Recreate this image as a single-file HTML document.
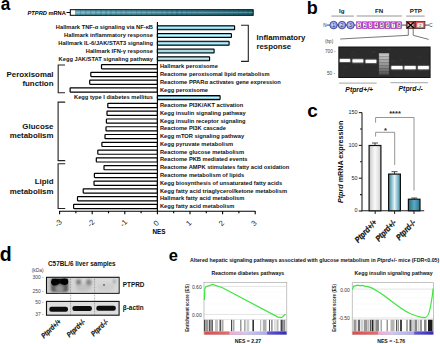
<!DOCTYPE html>
<html><head><meta charset="utf-8"><style>
html,body{margin:0;padding:0;background:#fff;width:440px;height:344px;overflow:hidden}
svg{display:block}
svg text{font-family:"Liberation Sans",sans-serif}
</style></head><body>
<svg width="440" height="344" viewBox="0 0 440 344">
<defs>
<radialGradient id="gcirc" cx="0.45" cy="0.45" r="0.6"><stop offset="0" stop-color="#dfe3ff"/><stop offset="0.55" stop-color="#9aa6f6"/><stop offset="1" stop-color="#7080ea"/></radialGradient>
<linearGradient id="gfn" x1="0" x2="1"><stop offset="0" stop-color="#c040d8"/><stop offset="0.3" stop-color="#f0c8f6"/><stop offset="0.7" stop-color="#f0c8f6"/><stop offset="1" stop-color="#c040d8"/></linearGradient>
<linearGradient id="gptp" x1="0" x2="1"><stop offset="0" stop-color="#e05858"/><stop offset="0.5" stop-color="#fce0e0"/><stop offset="1" stop-color="#e05858"/></linearGradient>
<linearGradient id="gb1" x1="0" x2="1"><stop offset="0" stop-color="#c8c8c8"/><stop offset="0.5" stop-color="#fafafa"/><stop offset="1" stop-color="#cfcfcf"/></linearGradient>
<linearGradient id="gb2" x1="0" x2="1"><stop offset="0" stop-color="#2f86a0"/><stop offset="0.5" stop-color="#e4f2f6"/><stop offset="1" stop-color="#3a8ea8"/></linearGradient>
<linearGradient id="gb3" x1="0" x2="1"><stop offset="0" stop-color="#1f6e88"/><stop offset="0.5" stop-color="#5eaac0"/><stop offset="1" stop-color="#237490"/></linearGradient>
<linearGradient id="gblot1" x1="0" x2="1"><stop offset="0" stop-color="#c4c4c4"/><stop offset="0.08" stop-color="#d2d2d2"/><stop offset="1" stop-color="#dadada"/></linearGradient>
<linearGradient id="gs1" x1="0" x2="1"><stop offset="0" stop-color="#e04a4a"/><stop offset="0.3" stop-color="#e86c6c"/><stop offset="0.31" stop-color="#eca8d8"/><stop offset="0.48" stop-color="#e6bce6"/><stop offset="0.5" stop-color="#ccc8f2"/><stop offset="0.76" stop-color="#aeaaee"/><stop offset="0.77" stop-color="#6058dc"/><stop offset="1" stop-color="#3028c8"/></linearGradient>
<linearGradient id="gs2" x1="0" x2="1"><stop offset="0" stop-color="#e04a4a"/><stop offset="0.31" stop-color="#e86c6c"/><stop offset="0.32" stop-color="#eca8d8"/><stop offset="0.48" stop-color="#e6bce6"/><stop offset="0.49" stop-color="#ccc8f2"/><stop offset="0.76" stop-color="#aeaaee"/><stop offset="0.77" stop-color="#6058dc"/><stop offset="1" stop-color="#3028c8"/></linearGradient>
<filter id="blur1" x="-50%" y="-50%" width="200%" height="200%"><feGaussianBlur stdDeviation="1.2"/></filter>
<filter id="blur05" x="-50%" y="-50%" width="200%" height="200%"><feGaussianBlur stdDeviation="0.6"/></filter>
<filter id="blur03" x="-50%" y="-50%" width="200%" height="200%"><feGaussianBlur stdDeviation="0.35"/></filter>
<linearGradient id="gladder" x1="0" y1="0" x2="0" y2="1"><stop offset="0" stop-color="#8a8a8a"/><stop offset="0.5" stop-color="#6a6a6a"/><stop offset="1" stop-color="#3a3a3a"/></linearGradient>
<linearGradient id="gpos" x1="0" y1="0" x2="0" y2="1"><stop offset="0" stop-color="#2a8aa4"/><stop offset="0.5" stop-color="#dcf2f8"/><stop offset="1" stop-color="#2a8aa4"/></linearGradient>
<filter id="blur045" x="-10%" y="-10%" width="120%" height="120%"><feGaussianBlur stdDeviation="0.45,0.1"/></filter>
</defs>

<text transform="translate(0.8,10.2) scale(0.9,1)" x="0" y="0" font-size="19" font-weight="bold" font-style="normal" text-anchor="start" fill="#000" >a</text>
<text x="306.8" y="13.6" font-size="18" font-weight="bold" font-style="normal" text-anchor="start" fill="#000" >b</text>
<text x="307.3" y="116.6" font-size="19" font-weight="bold" font-style="normal" text-anchor="start" fill="#000" >c</text>
<text x="-0.3" y="260.7" font-size="19.5" font-weight="bold" font-style="normal" text-anchor="start" fill="#000" >d</text>
<text transform="translate(168.8,261.3) scale(0.97,1)" x="0" y="0" font-size="17" font-weight="bold" font-style="normal" text-anchor="start" fill="#000" >e</text>
<text transform="translate(65.8,14.6) scale(0.92,1)" x="0" y="0" font-size="6.2" font-weight="bold" font-style="normal" text-anchor="end" fill="#000" ><tspan font-style="italic">PTPRD</tspan> mRNA</text>
<line x1="66.5" y1="12.5" x2="70" y2="12.5" stroke="#000" stroke-width="1"/>
<rect x="70.50" y="9.8" width="5.12" height="5.4" fill="#ffffff"/>
<rect x="75.57" y="9.8" width="5.12" height="5.4" fill="#62aec0"/>
<rect x="80.64" y="9.8" width="5.12" height="5.4" fill="#5fabbd"/>
<rect x="85.71" y="9.8" width="5.12" height="5.4" fill="#5da9bb"/>
<rect x="90.78" y="9.8" width="5.12" height="5.4" fill="#5ba7b9"/>
<rect x="95.85" y="9.8" width="5.12" height="5.4" fill="#59a5b7"/>
<rect x="100.92" y="9.8" width="5.12" height="5.4" fill="#57a3b5"/>
<rect x="105.99" y="9.8" width="5.12" height="5.4" fill="#55a1b3"/>
<rect x="111.06" y="9.8" width="5.12" height="5.4" fill="#539fb1"/>
<rect x="116.12" y="9.8" width="5.12" height="5.4" fill="#519daf"/>
<rect x="121.19" y="9.8" width="5.12" height="5.4" fill="#4f9aac"/>
<rect x="126.26" y="9.8" width="5.12" height="5.4" fill="#4d98aa"/>
<rect x="131.33" y="9.8" width="5.12" height="5.4" fill="#4b96a8"/>
<rect x="136.40" y="9.8" width="5.12" height="5.4" fill="#4994a6"/>
<rect x="141.47" y="9.8" width="5.12" height="5.4" fill="#4792a4"/>
<rect x="146.54" y="9.8" width="5.12" height="5.4" fill="#4590a2"/>
<rect x="151.61" y="9.8" width="5.12" height="5.4" fill="#438ea0"/>
<rect x="156.68" y="9.8" width="5.12" height="5.4" fill="#418c9e"/>
<rect x="161.75" y="9.8" width="5.12" height="5.4" fill="#3f8a9c"/>
<rect x="166.82" y="9.8" width="5.12" height="5.4" fill="#3c8799"/>
<rect x="171.89" y="9.8" width="5.12" height="5.4" fill="#3a8597"/>
<rect x="176.96" y="9.8" width="5.12" height="5.4" fill="#388395"/>
<rect x="182.03" y="9.8" width="5.12" height="5.4" fill="#368193"/>
<rect x="187.10" y="9.8" width="5.12" height="5.4" fill="#347f91"/>
<rect x="192.17" y="9.8" width="5.12" height="5.4" fill="#327d8f"/>
<rect x="197.24" y="9.8" width="5.12" height="5.4" fill="#307b8d"/>
<rect x="202.31" y="9.8" width="5.12" height="5.4" fill="#2e798b"/>
<rect x="207.38" y="9.8" width="5.12" height="5.4" fill="#2c7688"/>
<rect x="212.44" y="9.8" width="5.12" height="5.4" fill="#2a7486"/>
<rect x="217.51" y="9.8" width="5.12" height="5.4" fill="#287284"/>
<rect x="222.58" y="9.8" width="5.12" height="5.4" fill="#267082"/>
<rect x="227.65" y="9.8" width="5.12" height="5.4" fill="#246e80"/>
<rect x="232.72" y="9.8" width="5.12" height="5.4" fill="#226c7e"/>
<rect x="237.79" y="9.8" width="5.12" height="5.4" fill="#206a7c"/>
<rect x="242.86" y="9.8" width="5.12" height="5.4" fill="#1e687a"/>
<rect x="247.93" y="9.8" width="5.12" height="5.4" fill="#1c6678"/>
<line x1="75.6" y1="12.5" x2="253" y2="12.5" stroke="#a0d4e0" stroke-width="0.6" opacity="0.7"/>
<line x1="75.57" y1="9.8" x2="75.57" y2="15.2" stroke="#123f4a" stroke-width="0.6" opacity="0.6"/>
<line x1="80.64" y1="9.8" x2="80.64" y2="15.2" stroke="#123f4a" stroke-width="0.6" opacity="0.6"/>
<line x1="85.71" y1="9.8" x2="85.71" y2="15.2" stroke="#123f4a" stroke-width="0.6" opacity="0.6"/>
<line x1="90.78" y1="9.8" x2="90.78" y2="15.2" stroke="#123f4a" stroke-width="0.6" opacity="0.6"/>
<line x1="95.85" y1="9.8" x2="95.85" y2="15.2" stroke="#123f4a" stroke-width="0.6" opacity="0.6"/>
<line x1="100.92" y1="9.8" x2="100.92" y2="15.2" stroke="#123f4a" stroke-width="0.6" opacity="0.6"/>
<line x1="105.99" y1="9.8" x2="105.99" y2="15.2" stroke="#123f4a" stroke-width="0.6" opacity="0.6"/>
<line x1="111.06" y1="9.8" x2="111.06" y2="15.2" stroke="#123f4a" stroke-width="0.6" opacity="0.6"/>
<line x1="116.12" y1="9.8" x2="116.12" y2="15.2" stroke="#123f4a" stroke-width="0.6" opacity="0.6"/>
<line x1="121.19" y1="9.8" x2="121.19" y2="15.2" stroke="#123f4a" stroke-width="0.6" opacity="0.6"/>
<line x1="126.26" y1="9.8" x2="126.26" y2="15.2" stroke="#123f4a" stroke-width="0.6" opacity="0.6"/>
<line x1="131.33" y1="9.8" x2="131.33" y2="15.2" stroke="#123f4a" stroke-width="0.6" opacity="0.6"/>
<line x1="136.40" y1="9.8" x2="136.40" y2="15.2" stroke="#123f4a" stroke-width="0.6" opacity="0.6"/>
<line x1="141.47" y1="9.8" x2="141.47" y2="15.2" stroke="#123f4a" stroke-width="0.6" opacity="0.6"/>
<line x1="146.54" y1="9.8" x2="146.54" y2="15.2" stroke="#123f4a" stroke-width="0.6" opacity="0.6"/>
<line x1="151.61" y1="9.8" x2="151.61" y2="15.2" stroke="#123f4a" stroke-width="0.6" opacity="0.6"/>
<line x1="156.68" y1="9.8" x2="156.68" y2="15.2" stroke="#123f4a" stroke-width="0.6" opacity="0.6"/>
<line x1="161.75" y1="9.8" x2="161.75" y2="15.2" stroke="#123f4a" stroke-width="0.6" opacity="0.6"/>
<line x1="166.82" y1="9.8" x2="166.82" y2="15.2" stroke="#123f4a" stroke-width="0.6" opacity="0.6"/>
<line x1="171.89" y1="9.8" x2="171.89" y2="15.2" stroke="#123f4a" stroke-width="0.6" opacity="0.6"/>
<line x1="176.96" y1="9.8" x2="176.96" y2="15.2" stroke="#123f4a" stroke-width="0.6" opacity="0.6"/>
<line x1="182.03" y1="9.8" x2="182.03" y2="15.2" stroke="#123f4a" stroke-width="0.6" opacity="0.6"/>
<line x1="187.10" y1="9.8" x2="187.10" y2="15.2" stroke="#123f4a" stroke-width="0.6" opacity="0.6"/>
<line x1="192.17" y1="9.8" x2="192.17" y2="15.2" stroke="#123f4a" stroke-width="0.6" opacity="0.6"/>
<line x1="197.24" y1="9.8" x2="197.24" y2="15.2" stroke="#123f4a" stroke-width="0.6" opacity="0.6"/>
<line x1="202.31" y1="9.8" x2="202.31" y2="15.2" stroke="#123f4a" stroke-width="0.6" opacity="0.6"/>
<line x1="207.38" y1="9.8" x2="207.38" y2="15.2" stroke="#123f4a" stroke-width="0.6" opacity="0.6"/>
<line x1="212.44" y1="9.8" x2="212.44" y2="15.2" stroke="#123f4a" stroke-width="0.6" opacity="0.6"/>
<line x1="217.51" y1="9.8" x2="217.51" y2="15.2" stroke="#123f4a" stroke-width="0.6" opacity="0.6"/>
<line x1="222.58" y1="9.8" x2="222.58" y2="15.2" stroke="#123f4a" stroke-width="0.6" opacity="0.6"/>
<line x1="227.65" y1="9.8" x2="227.65" y2="15.2" stroke="#123f4a" stroke-width="0.6" opacity="0.6"/>
<line x1="232.72" y1="9.8" x2="232.72" y2="15.2" stroke="#123f4a" stroke-width="0.6" opacity="0.6"/>
<line x1="237.79" y1="9.8" x2="237.79" y2="15.2" stroke="#123f4a" stroke-width="0.6" opacity="0.6"/>
<line x1="242.86" y1="9.8" x2="242.86" y2="15.2" stroke="#123f4a" stroke-width="0.6" opacity="0.6"/>
<line x1="247.93" y1="9.8" x2="247.93" y2="15.2" stroke="#123f4a" stroke-width="0.6" opacity="0.6"/>
<rect x="70.3" y="9.7" width="182.9" height="5.6" fill="none" stroke="#000" stroke-width="1"/>
<rect x="157.4" y="25.70" width="77.20" height="4.0" rx="0.5" fill="url(#gpos)" stroke="#000" stroke-width="1.15"/>
<text transform="translate(153.0,29.45) scale(0.925,1)" x="0" y="0" font-size="6.2" font-weight="bold" font-style="normal" text-anchor="end" fill="#111" >Hallmark TNF-α signaling via NF-κB</text>
<rect x="157.4" y="33.46" width="74.00" height="4.0" rx="0.5" fill="url(#gpos)" stroke="#000" stroke-width="1.15"/>
<text transform="translate(153.0,37.21) scale(0.925,1)" x="0" y="0" font-size="6.2" font-weight="bold" font-style="normal" text-anchor="end" fill="#111" >Hallmark inflammatory response</text>
<rect x="157.4" y="41.23" width="71.70" height="4.0" rx="0.5" fill="url(#gpos)" stroke="#000" stroke-width="1.15"/>
<text transform="translate(153.0,44.98) scale(0.925,1)" x="0" y="0" font-size="6.2" font-weight="bold" font-style="normal" text-anchor="end" fill="#111" >Hallmark IL-6/JAK/STAT3 signaling</text>
<rect x="157.4" y="48.99" width="56.70" height="4.0" rx="0.5" fill="url(#gpos)" stroke="#000" stroke-width="1.15"/>
<text transform="translate(153.0,52.74) scale(0.925,1)" x="0" y="0" font-size="6.2" font-weight="bold" font-style="normal" text-anchor="end" fill="#111" >Hallmark IFN-γ response</text>
<rect x="157.4" y="56.76" width="52.20" height="4.0" rx="0.5" fill="url(#gpos)" stroke="#000" stroke-width="1.15"/>
<text transform="translate(153.0,60.51) scale(0.925,1)" x="0" y="0" font-size="6.2" font-weight="bold" font-style="normal" text-anchor="end" fill="#111" >Kegg JAK/STAT signaling pathway</text>
<rect x="101.50" y="64.62" width="55.90" height="4.2" rx="0.5" fill="#fff" stroke="#000" stroke-width="1.2"/>
<text transform="translate(159.9,68.27) scale(0.925,1)" x="0" y="0" font-size="6.2" font-weight="bold" font-style="normal" text-anchor="start" fill="#111" >Hallmark peroxisome</text>
<rect x="90.80" y="72.39" width="66.60" height="4.2" rx="0.5" fill="#fff" stroke="#000" stroke-width="1.2"/>
<text transform="translate(159.9,76.04) scale(0.925,1)" x="0" y="0" font-size="6.2" font-weight="bold" font-style="normal" text-anchor="start" fill="#111" >Reactome peroxisomal lipid metabolism</text>
<rect x="89.70" y="80.16" width="67.70" height="4.2" rx="0.5" fill="#fff" stroke="#000" stroke-width="1.2"/>
<text transform="translate(159.9,83.80) scale(0.925,1)" x="0" y="0" font-size="6.2" font-weight="bold" font-style="normal" text-anchor="start" fill="#111" >Reactome PPARα activates gene expression</text>
<rect x="70.10" y="87.92" width="87.30" height="4.2" rx="0.5" fill="#fff" stroke="#000" stroke-width="1.2"/>
<text transform="translate(159.9,91.57) scale(0.925,1)" x="0" y="0" font-size="6.2" font-weight="bold" font-style="normal" text-anchor="start" fill="#111" >Kegg peroxisome</text>
<rect x="157.4" y="95.58" width="62.70" height="4.0" rx="0.5" fill="url(#gpos)" stroke="#000" stroke-width="1.15"/>
<text transform="translate(153.0,99.33) scale(0.925,1)" x="0" y="0" font-size="6.2" font-weight="bold" font-style="normal" text-anchor="end" fill="#111" >Kegg type I diabetes mellitus</text>
<rect x="107.80" y="103.45" width="49.60" height="4.2" rx="0.5" fill="#fff" stroke="#000" stroke-width="1.2"/>
<text transform="translate(159.9,107.10) scale(0.925,1)" x="0" y="0" font-size="6.2" font-weight="bold" font-style="normal" text-anchor="start" fill="#111" >Reactome PI3K/AKT activation</text>
<rect x="107.00" y="111.22" width="50.40" height="4.2" rx="0.5" fill="#fff" stroke="#000" stroke-width="1.2"/>
<text transform="translate(159.9,114.86) scale(0.925,1)" x="0" y="0" font-size="6.2" font-weight="bold" font-style="normal" text-anchor="start" fill="#111" >Kegg insulin signaling pathway</text>
<rect x="106.40" y="118.98" width="51.00" height="4.2" rx="0.5" fill="#fff" stroke="#000" stroke-width="1.2"/>
<text transform="translate(159.9,122.63) scale(0.925,1)" x="0" y="0" font-size="6.2" font-weight="bold" font-style="normal" text-anchor="start" fill="#111" >Kegg insulin receptor signaling</text>
<rect x="106.00" y="126.75" width="51.40" height="4.2" rx="0.5" fill="#fff" stroke="#000" stroke-width="1.2"/>
<text transform="translate(159.9,130.40) scale(0.925,1)" x="0" y="0" font-size="6.2" font-weight="bold" font-style="normal" text-anchor="start" fill="#111" >Reactome PI3K cascade</text>
<rect x="105.00" y="134.51" width="52.40" height="4.2" rx="0.5" fill="#fff" stroke="#000" stroke-width="1.2"/>
<text transform="translate(159.9,138.16) scale(0.925,1)" x="0" y="0" font-size="6.2" font-weight="bold" font-style="normal" text-anchor="start" fill="#111" >Kegg mTOR signaling pathway</text>
<rect x="101.90" y="142.28" width="55.50" height="4.2" rx="0.5" fill="#fff" stroke="#000" stroke-width="1.2"/>
<text transform="translate(159.9,145.93) scale(0.925,1)" x="0" y="0" font-size="6.2" font-weight="bold" font-style="normal" text-anchor="start" fill="#111" >Kegg pyruvate metabolism</text>
<rect x="97.80" y="150.04" width="59.60" height="4.2" rx="0.5" fill="#fff" stroke="#000" stroke-width="1.2"/>
<text transform="translate(159.9,153.69) scale(0.925,1)" x="0" y="0" font-size="6.2" font-weight="bold" font-style="normal" text-anchor="start" fill="#111" >Reactome glucose metabolism</text>
<rect x="96.30" y="157.81" width="61.10" height="4.2" rx="0.5" fill="#fff" stroke="#000" stroke-width="1.2"/>
<text transform="translate(159.9,161.46) scale(0.925,1)" x="0" y="0" font-size="6.2" font-weight="bold" font-style="normal" text-anchor="start" fill="#111" >Reactome PKB mediated events</text>
<rect x="104.00" y="165.57" width="53.40" height="4.2" rx="0.5" fill="#fff" stroke="#000" stroke-width="1.2"/>
<text transform="translate(159.9,169.22) scale(0.925,1)" x="0" y="0" font-size="6.2" font-weight="bold" font-style="normal" text-anchor="start" fill="#111" >Reactome AMPK stimulates fatty acid oxidation</text>
<rect x="94.40" y="173.34" width="63.00" height="4.2" rx="0.5" fill="#fff" stroke="#000" stroke-width="1.2"/>
<text transform="translate(159.9,176.99) scale(0.925,1)" x="0" y="0" font-size="6.2" font-weight="bold" font-style="normal" text-anchor="start" fill="#111" >Reactome metabolism of lipids</text>
<rect x="94.00" y="181.10" width="63.40" height="4.2" rx="0.5" fill="#fff" stroke="#000" stroke-width="1.2"/>
<text transform="translate(159.9,184.75) scale(0.925,1)" x="0" y="0" font-size="6.2" font-weight="bold" font-style="normal" text-anchor="start" fill="#111" >Kegg biosynthesis of unsaturated fatty acids</text>
<rect x="83.20" y="188.87" width="74.20" height="4.2" rx="0.5" fill="#fff" stroke="#000" stroke-width="1.2"/>
<text transform="translate(159.9,192.52) scale(0.925,1)" x="0" y="0" font-size="6.2" font-weight="bold" font-style="normal" text-anchor="start" fill="#111" >Kegg fatty acid triaglycerol/ketone metabolism</text>
<rect x="77.50" y="196.63" width="79.90" height="4.2" rx="0.5" fill="#fff" stroke="#000" stroke-width="1.2"/>
<text transform="translate(159.9,200.28) scale(0.925,1)" x="0" y="0" font-size="6.2" font-weight="bold" font-style="normal" text-anchor="start" fill="#111" >Hallmark fatty acid metabolism</text>
<rect x="73.60" y="204.40" width="83.80" height="4.2" rx="0.5" fill="#fff" stroke="#000" stroke-width="1.2"/>
<text transform="translate(159.9,208.05) scale(0.925,1)" x="0" y="0" font-size="6.2" font-weight="bold" font-style="normal" text-anchor="start" fill="#111" >Kegg fatty acid metabolism</text>
<line x1="157.4" y1="22" x2="157.4" y2="211.5" stroke="#000" stroke-width="1.1"/>
<line x1="59.3" y1="211.2" x2="255.2" y2="211.2" stroke="#000" stroke-width="1.1"/>
<line x1="59.60" y1="211" x2="59.60" y2="214.3" stroke="#000" stroke-width="1.1"/>
<text transform="translate(60.20,225.0) rotate(-45) scale(1.0,1)" font-size="7.6" font-weight="normal" font-style="normal" text-anchor="middle" fill="#222" >-3</text>
<line x1="92.20" y1="211" x2="92.20" y2="214.3" stroke="#000" stroke-width="1.1"/>
<text transform="translate(92.80,225.0) rotate(-45) scale(1.0,1)" font-size="7.6" font-weight="normal" font-style="normal" text-anchor="middle" fill="#222" >-2</text>
<line x1="124.80" y1="211" x2="124.80" y2="214.3" stroke="#000" stroke-width="1.1"/>
<text transform="translate(125.40,225.0) rotate(-45) scale(1.0,1)" font-size="7.6" font-weight="normal" font-style="normal" text-anchor="middle" fill="#222" >-1</text>
<line x1="157.40" y1="211" x2="157.40" y2="214.3" stroke="#000" stroke-width="1.1"/>
<text transform="translate(158.00,225.0) rotate(-45) scale(1.0,1)" font-size="7.6" font-weight="normal" font-style="normal" text-anchor="middle" fill="#222" >0</text>
<line x1="190.00" y1="211" x2="190.00" y2="214.3" stroke="#000" stroke-width="1.1"/>
<text transform="translate(190.60,225.0) rotate(-45) scale(1.0,1)" font-size="7.6" font-weight="normal" font-style="normal" text-anchor="middle" fill="#222" >1</text>
<line x1="222.60" y1="211" x2="222.60" y2="214.3" stroke="#000" stroke-width="1.1"/>
<text transform="translate(223.20,225.0) rotate(-45) scale(1.0,1)" font-size="7.6" font-weight="normal" font-style="normal" text-anchor="middle" fill="#222" >2</text>
<line x1="255.20" y1="211" x2="255.20" y2="214.3" stroke="#000" stroke-width="1.1"/>
<text transform="translate(255.80,225.0) rotate(-45) scale(1.0,1)" font-size="7.6" font-weight="normal" font-style="normal" text-anchor="middle" fill="#222" >3</text>
<line x1="75.90" y1="211" x2="75.90" y2="213.3" stroke="#000" stroke-width="1.1"/>
<line x1="108.50" y1="211" x2="108.50" y2="213.3" stroke="#000" stroke-width="1.1"/>
<line x1="141.10" y1="211" x2="141.10" y2="213.3" stroke="#000" stroke-width="1.1"/>
<line x1="173.70" y1="211" x2="173.70" y2="213.3" stroke="#000" stroke-width="1.1"/>
<line x1="206.30" y1="211" x2="206.30" y2="213.3" stroke="#000" stroke-width="1.1"/>
<line x1="238.90" y1="211" x2="238.90" y2="213.3" stroke="#000" stroke-width="1.1"/>
<text x="159" y="234.2" font-size="6.3" font-weight="bold" font-style="normal" text-anchor="middle" fill="#000" >NES</text>
<polyline points="241,25.2 248.3,25.2 248.3,61.4 241,61.4" fill="none" stroke="#222" stroke-width="1.1"/>
<polyline points="65,65 58.2,65 58.2,92.8 65,92.8" fill="none" stroke="#222" stroke-width="1.1"/>
<polyline points="65.2,102.1 58.1,102.1 58.1,160.6 65.2,160.6" fill="none" stroke="#222" stroke-width="1.1"/>
<polyline points="65.2,163.7 58.1,163.7 58.1,208.5 65.2,208.5" fill="none" stroke="#222" stroke-width="1.1"/>
<text x="256.5" y="39.8" font-size="7.8" font-weight="bold" font-style="normal" text-anchor="start" fill="#111" >Inflammatory</text>
<text x="256.5" y="49.0" font-size="7.8" font-weight="bold" font-style="normal" text-anchor="start" fill="#111" >response</text>
<text x="53.5" y="76.5" font-size="7.9" font-weight="bold" font-style="normal" text-anchor="end" fill="#111" >Peroxisomal</text>
<text x="53.5" y="85.6" font-size="7.9" font-weight="bold" font-style="normal" text-anchor="end" fill="#111" >function</text>
<text x="53.5" y="128.9" font-size="7.9" font-weight="bold" font-style="normal" text-anchor="end" fill="#111" >Glucose</text>
<text x="53.5" y="137.7" font-size="7.9" font-weight="bold" font-style="normal" text-anchor="end" fill="#111" >metabolism</text>
<text x="53.5" y="184.3" font-size="7.9" font-weight="bold" font-style="normal" text-anchor="end" fill="#111" >Lipid</text>
<text x="53.5" y="193.5" font-size="7.9" font-weight="bold" font-style="normal" text-anchor="end" fill="#111" >metabolism</text>
<text x="341.7" y="12.9" font-size="6.2" font-weight="bold" font-style="normal" text-anchor="middle" fill="#1a1a1a" >Ig</text>
<line x1="331.4" y1="16.1" x2="353.9" y2="16.1" stroke="#b8b8b8" stroke-width="1.5"/>
<text x="379.2" y="12.9" font-size="6.2" font-weight="bold" font-style="normal" text-anchor="middle" fill="#1a1a1a" >FN</text>
<line x1="356.6" y1="16.1" x2="401.8" y2="16.1" stroke="#b8b8b8" stroke-width="1.5"/>
<text x="415.8" y="12.9" font-size="6.2" font-weight="bold" font-style="normal" text-anchor="middle" fill="#1a1a1a" >PTP</text>
<line x1="406.2" y1="16.1" x2="424.7" y2="16.1" stroke="#b8b8b8" stroke-width="1.5"/>
<text x="323.2" y="26.8" font-size="4.6" font-weight="normal" font-style="normal" text-anchor="start" fill="#333" >N</text>
<line x1="326.6" y1="25.1" x2="356" y2="25.1" stroke="#333" stroke-width="0.9"/>
<line x1="402" y1="25.1" x2="406.2" y2="25.1" stroke="#333" stroke-width="0.9"/>
<line x1="425" y1="25.1" x2="429.3" y2="25.1" stroke="#333" stroke-width="0.9"/>
<text x="429.2" y="26.8" font-size="4.6" font-weight="normal" font-style="normal" text-anchor="start" fill="#333" >C</text>
<circle cx="333.6" cy="25.1" r="3.8" fill="url(#gcirc)" stroke="#1a2266" stroke-width="0.65"/>
<text x="333.6" y="26.9" font-size="5" font-weight="normal" text-anchor="middle" fill="#2a2a3a">1</text>
<circle cx="342.0" cy="25.1" r="3.8" fill="url(#gcirc)" stroke="#1a2266" stroke-width="0.65"/>
<text x="342.0" y="26.9" font-size="5" font-weight="normal" text-anchor="middle" fill="#2a2a3a">2</text>
<circle cx="350.5" cy="25.1" r="3.8" fill="url(#gcirc)" stroke="#1a2266" stroke-width="0.65"/>
<text x="350.5" y="26.9" font-size="5" font-weight="normal" text-anchor="middle" fill="#2a2a3a">3</text>
<rect x="356.50" y="21.8" width="5.11" height="6.8" fill="#d23ce2" stroke="#8a2a9a" stroke-width="0.5"/>
<rect x="357.40" y="22.6" width="3.31" height="5.2" rx="0.7" fill="#ffffff"/>
<text x="359.06" y="26.9" font-size="5.0" font-weight="normal" font-style="normal" text-anchor="middle" fill="#111" >1</text>
<rect x="362.21" y="21.8" width="5.11" height="6.8" fill="#d23ce2" stroke="#8a2a9a" stroke-width="0.5"/>
<rect x="363.11" y="22.6" width="3.31" height="5.2" rx="0.7" fill="#ffffff"/>
<text x="364.77" y="26.9" font-size="5.0" font-weight="normal" font-style="normal" text-anchor="middle" fill="#111" >2</text>
<rect x="367.93" y="21.8" width="5.11" height="6.8" fill="#d23ce2" stroke="#8a2a9a" stroke-width="0.5"/>
<rect x="368.82" y="22.6" width="3.31" height="5.2" rx="0.7" fill="#ffffff"/>
<text x="370.48" y="26.9" font-size="5.0" font-weight="normal" font-style="normal" text-anchor="middle" fill="#111" >3</text>
<rect x="373.64" y="21.8" width="5.11" height="6.8" fill="#d23ce2" stroke="#8a2a9a" stroke-width="0.5"/>
<rect x="374.54" y="22.6" width="3.31" height="5.2" rx="0.7" fill="#ffffff"/>
<text x="376.19" y="26.9" font-size="5.0" font-weight="normal" font-style="normal" text-anchor="middle" fill="#111" >4</text>
<rect x="379.35" y="21.8" width="5.11" height="6.8" fill="#d23ce2" stroke="#8a2a9a" stroke-width="0.5"/>
<rect x="380.25" y="22.6" width="3.31" height="5.2" rx="0.7" fill="#ffffff"/>
<text x="381.91" y="26.9" font-size="5.0" font-weight="normal" font-style="normal" text-anchor="middle" fill="#111" >5</text>
<rect x="385.06" y="21.8" width="5.11" height="6.8" fill="#d23ce2" stroke="#8a2a9a" stroke-width="0.5"/>
<rect x="385.96" y="22.6" width="3.31" height="5.2" rx="0.7" fill="#ffffff"/>
<text x="387.62" y="26.9" font-size="5.0" font-weight="normal" font-style="normal" text-anchor="middle" fill="#111" >6</text>
<rect x="390.78" y="21.8" width="5.11" height="6.8" fill="#d23ce2" stroke="#8a2a9a" stroke-width="0.5"/>
<rect x="391.68" y="22.6" width="3.31" height="5.2" rx="0.7" fill="#ffffff"/>
<text x="393.33" y="26.9" font-size="5.0" font-weight="normal" font-style="normal" text-anchor="middle" fill="#111" >7</text>
<rect x="396.49" y="21.8" width="5.11" height="6.8" fill="#d23ce2" stroke="#8a2a9a" stroke-width="0.5"/>
<rect x="397.39" y="22.6" width="3.31" height="5.2" rx="0.7" fill="#ffffff"/>
<text x="399.04" y="26.9" font-size="5.0" font-weight="normal" font-style="normal" text-anchor="middle" fill="#111" >8</text>
<rect x="406.3" y="21.6" width="8.6" height="7" fill="#e25050" stroke="#222" stroke-width="0.7"/>
<rect x="408.0" y="23.0" width="5.2" height="4.2" rx="0.6" fill="#f8d0d0"/>
<path d="M407.3,22.2 L413.9,28 M413.9,22.2 L407.3,28" stroke="#000" stroke-width="1.4"/>
<rect x="415.5" y="21.6" width="9.4" height="7" fill="#e05a5a" stroke="#222" stroke-width="0.7"/>
<rect x="417.2" y="22.9" width="6" height="4.4" rx="0.8" fill="#fbe6e6"/>
<text x="420.2" y="26.7" font-size="4.2" font-weight="normal" font-style="normal" text-anchor="middle" fill="#444" >2</text>
<polyline points="408.3,28.6 408.3,35.3 340.2,39" fill="none" stroke="#555" stroke-width="0.8"/>
<polyline points="413.2,28.6 413.2,35.3 428.7,39.4" fill="none" stroke="#555" stroke-width="0.8"/>
<text x="325" y="43.3" font-size="4.6" font-weight="normal" font-style="normal" text-anchor="start" fill="#444" >(bp)</text>
<text x="325" y="53.1" font-size="4.7" font-weight="normal" font-style="normal" text-anchor="start" fill="#444" >700 -</text>
<text x="327" y="75.4" font-size="4.7" font-weight="normal" font-style="normal" text-anchor="start" fill="#444" >50 -</text>
<rect x="338.3" y="46.5" width="92.3" height="31.5" fill="#151515"/>
<rect x="339.3" y="47.5" width="90.3" height="29.5" fill="#2b2b2b"/>
<rect x="368.3" y="51.7" width="3.0" height="0.7" fill="#3a3a3a" opacity="0.5"/>
<rect x="387.2" y="57.7" width="1.2" height="1.4" fill="#3a3a3a" opacity="0.5"/>
<rect x="342.8" y="59.6" width="1.2" height="0.7" fill="#3a3a3a" opacity="0.5"/>
<rect x="377.3" y="70.7" width="1.4" height="0.9" fill="#3a3a3a" opacity="0.5"/>
<rect x="395.3" y="74.0" width="2.7" height="1.2" fill="#3a3a3a" opacity="0.5"/>
<rect x="426.4" y="48.8" width="3.6" height="1.0" fill="#3a3a3a" opacity="0.5"/>
<rect x="352.3" y="50.8" width="1.9" height="1.8" fill="#3a3a3a" opacity="0.5"/>
<rect x="355.6" y="63.8" width="2.9" height="1.2" fill="#3a3a3a" opacity="0.5"/>
<rect x="388.2" y="49.3" width="1.2" height="0.9" fill="#3a3a3a" opacity="0.5"/>
<rect x="400.1" y="59.5" width="1.9" height="1.5" fill="#3a3a3a" opacity="0.5"/>
<rect x="379.8" y="55.9" width="3.4" height="1.6" fill="#3a3a3a" opacity="0.5"/>
<rect x="361.2" y="63.6" width="2.6" height="1.9" fill="#3a3a3a" opacity="0.5"/>
<rect x="404.4" y="55.6" width="3.9" height="0.8" fill="#3a3a3a" opacity="0.5"/>
<rect x="376.7" y="68.7" width="1.5" height="1.3" fill="#3a3a3a" opacity="0.5"/>
<rect x="343.0" y="66.2" width="3.3" height="1.5" fill="#3a3a3a" opacity="0.5"/>
<rect x="417.4" y="56.3" width="3.1" height="1.5" fill="#3a3a3a" opacity="0.5"/>
<rect x="391.1" y="60.3" width="3.5" height="2.0" fill="#3a3a3a" opacity="0.5"/>
<rect x="381.7" y="66.1" width="1.2" height="1.7" fill="#3a3a3a" opacity="0.5"/>
<rect x="397.1" y="75.3" width="3.5" height="1.0" fill="#3a3a3a" opacity="0.5"/>
<rect x="373.8" y="66.2" width="1.1" height="1.3" fill="#3a3a3a" opacity="0.5"/>
<rect x="354.5" y="50.8" width="1.2" height="1.8" fill="#3a3a3a" opacity="0.5"/>
<rect x="351.0" y="54.4" width="2.2" height="1.9" fill="#3a3a3a" opacity="0.5"/>
<rect x="346.7" y="60.1" width="2.6" height="1.9" fill="#3a3a3a" opacity="0.5"/>
<rect x="412.4" y="71.7" width="1.8" height="1.2" fill="#3a3a3a" opacity="0.5"/>
<rect x="371.4" y="72.3" width="3.9" height="0.8" fill="#3a3a3a" opacity="0.5"/>
<rect x="355.2" y="54.0" width="1.7" height="1.3" fill="#3a3a3a" opacity="0.5"/>
<rect x="391.9" y="54.9" width="1.0" height="1.2" fill="#3a3a3a" opacity="0.5"/>
<rect x="372.4" y="63.4" width="3.9" height="1.6" fill="#3a3a3a" opacity="0.5"/>
<rect x="385.4" y="64.8" width="3.0" height="0.7" fill="#3a3a3a" opacity="0.5"/>
<rect x="419.6" y="69.3" width="3.6" height="1.8" fill="#3a3a3a" opacity="0.5"/>
<rect x="374.4" y="58.7" width="1.3" height="1.6" fill="#3a3a3a" opacity="0.5"/>
<rect x="345.0" y="49.4" width="1.6" height="0.8" fill="#3a3a3a" opacity="0.5"/>
<rect x="369.8" y="49.0" width="1.0" height="0.8" fill="#3a3a3a" opacity="0.5"/>
<rect x="348.5" y="57.7" width="1.1" height="1.9" fill="#3a3a3a" opacity="0.5"/>
<rect x="394.2" y="51.7" width="1.8" height="1.1" fill="#3a3a3a" opacity="0.5"/>
<rect x="371.9" y="50.9" width="3.5" height="2.1" fill="#3a3a3a" opacity="0.5"/>
<rect x="381.0" y="61.0" width="1.3" height="0.8" fill="#3a3a3a" opacity="0.5"/>
<rect x="370.0" y="54.9" width="3.5" height="0.8" fill="#3a3a3a" opacity="0.5"/>
<rect x="341.6" y="74.1" width="2.6" height="0.8" fill="#3a3a3a" opacity="0.5"/>
<rect x="387.8" y="48.3" width="2.6" height="2.1" fill="#3a3a3a" opacity="0.5"/>
<rect x="339.0" y="57.9" width="12.00" height="5.2" rx="1.5" fill="#8a8a8a" opacity="0.5" filter="url(#blur05)"/>
<rect x="339.8" y="58.9" width="10.40" height="3.2" rx="0.8" fill="#fcfcfc"/>
<rect x="351.59999999999997" y="58.3" width="12.50" height="5.2" rx="1.5" fill="#8a8a8a" opacity="0.5" filter="url(#blur05)"/>
<rect x="352.4" y="59.3" width="10.90" height="3.2" rx="0.8" fill="#fcfcfc"/>
<rect x="364.7" y="58.8" width="12.50" height="5.2" rx="1.5" fill="#8a8a8a" opacity="0.5" filter="url(#blur05)"/>
<rect x="365.5" y="59.8" width="10.90" height="3.2" rx="0.8" fill="#fcfcfc"/>
<rect x="390.5" y="65.0" width="13.00" height="5.2" rx="1.5" fill="#8a8a8a" opacity="0.5" filter="url(#blur05)"/>
<rect x="391.3" y="66.0" width="11.40" height="3.2" rx="0.8" fill="#fcfcfc"/>
<rect x="403.59999999999997" y="65.0" width="13.00" height="5.2" rx="1.5" fill="#8a8a8a" opacity="0.5" filter="url(#blur05)"/>
<rect x="404.4" y="66.0" width="11.40" height="3.2" rx="0.8" fill="#fcfcfc"/>
<rect x="417.09999999999997" y="65.0" width="12.60" height="5.2" rx="1.5" fill="#8a8a8a" opacity="0.5" filter="url(#blur05)"/>
<rect x="417.9" y="66.0" width="11.00" height="3.2" rx="0.8" fill="#fcfcfc"/>
<rect x="378.8" y="53" width="10.4" height="22.5" fill="url(#gladder)" filter="url(#blur03)"/>
<g filter="url(#blur03)">
<rect x="379.2" y="53.80" width="9.6" height="0.8" fill="#eeeeee" opacity="0.90"/>
<rect x="379.2" y="55.30" width="9.6" height="0.8" fill="#eeeeee" opacity="0.84"/>
<rect x="379.2" y="56.80" width="9.6" height="0.8" fill="#eeeeee" opacity="0.79"/>
<rect x="379.2" y="58.30" width="9.6" height="0.8" fill="#eeeeee" opacity="0.73"/>
<rect x="379.2" y="59.80" width="9.6" height="0.8" fill="#eeeeee" opacity="0.68"/>
<rect x="379.2" y="61.30" width="9.6" height="0.8" fill="#eeeeee" opacity="0.62"/>
<rect x="379.2" y="62.80" width="9.6" height="0.8" fill="#eeeeee" opacity="0.57"/>
<rect x="379.2" y="64.30" width="9.6" height="0.8" fill="#eeeeee" opacity="0.52"/>
<rect x="379.2" y="65.80" width="9.6" height="0.8" fill="#eeeeee" opacity="0.46"/>
<rect x="379.2" y="67.30" width="9.6" height="0.8" fill="#eeeeee" opacity="0.41"/>
<rect x="379.2" y="68.80" width="9.6" height="0.8" fill="#eeeeee" opacity="0.35"/>
<rect x="379.2" y="70.30" width="9.6" height="0.8" fill="#eeeeee" opacity="0.30"/>
<rect x="379.2" y="71.80" width="9.6" height="0.8" fill="#eeeeee" opacity="0.24"/>
<rect x="379.2" y="73.30" width="9.6" height="0.8" fill="#eeeeee" opacity="0.19"/>
</g>
<line x1="339" y1="83.1" x2="376.7" y2="83.1" stroke="#b8b8b8" stroke-width="1.4"/>
<line x1="390.5" y1="82.6" x2="428" y2="82.6" stroke="#b8b8b8" stroke-width="1.4"/>
<text transform="translate(359.2,91.6) scale(0.9,1)" x="0" y="0" font-size="7.6" font-weight="bold" font-style="italic" text-anchor="middle" fill="#111" >Ptprd+/+</text>
<text transform="translate(410.7,91.4) scale(0.9,1)" x="0" y="0" font-size="7.6" font-weight="bold" font-style="italic" text-anchor="middle" fill="#111" >Ptprd-/-</text>
<line x1="362" y1="112.4" x2="362" y2="211.3" stroke="#222" stroke-width="1.1"/>
<line x1="361.5" y1="210.8" x2="424.2" y2="210.8" stroke="#222" stroke-width="1.1"/>
<line x1="358.8" y1="211.00" x2="362" y2="211.00" stroke="#222" stroke-width="1.1"/>
<text x="357.6" y="212.40" font-size="5.4" font-weight="normal" font-style="normal" text-anchor="end" fill="#1a1a1a" >0</text>
<line x1="358.8" y1="178.20" x2="362" y2="178.20" stroke="#222" stroke-width="1.1"/>
<text x="357.6" y="179.60" font-size="5.4" font-weight="normal" font-style="normal" text-anchor="end" fill="#1a1a1a" >50</text>
<line x1="358.8" y1="145.40" x2="362" y2="145.40" stroke="#222" stroke-width="1.1"/>
<text x="357.6" y="146.80" font-size="5.4" font-weight="normal" font-style="normal" text-anchor="end" fill="#1a1a1a" >100</text>
<line x1="358.8" y1="112.60" x2="362" y2="112.60" stroke="#222" stroke-width="1.1"/>
<text x="357.6" y="114.00" font-size="5.4" font-weight="normal" font-style="normal" text-anchor="end" fill="#1a1a1a" >150</text>
<line x1="360" y1="194.60" x2="362" y2="194.60" stroke="#222" stroke-width="1.1"/>
<line x1="360" y1="161.80" x2="362" y2="161.80" stroke="#222" stroke-width="1.1"/>
<line x1="360" y1="129.00" x2="362" y2="129.00" stroke="#222" stroke-width="1.1"/>
<line x1="375.2" y1="210.8" x2="375.2" y2="214" stroke="#222" stroke-width="1"/>
<line x1="394.6" y1="210.8" x2="394.6" y2="214" stroke="#222" stroke-width="1"/>
<line x1="414" y1="210.8" x2="414" y2="214" stroke="#222" stroke-width="1"/>
<line x1="375.0" y1="143.0" x2="375.0" y2="145.5" stroke="#222" stroke-width="0.8"/>
<line x1="372.0" y1="143.0" x2="378.0" y2="143.0" stroke="#222" stroke-width="0.8"/>
<rect x="369.1" y="145.5" width="11.80" height="65.30" fill="url(#gb1)" stroke="#111" stroke-width="1.2"/>
<line x1="394.5" y1="171.7" x2="394.5" y2="174.1" stroke="#222" stroke-width="0.8"/>
<line x1="391.5" y1="171.7" x2="397.5" y2="171.7" stroke="#222" stroke-width="0.8"/>
<rect x="388.6" y="174.1" width="11.80" height="36.70" fill="url(#gb2)" stroke="#111" stroke-width="1.2"/>
<line x1="414.20000000000005" y1="198.0" x2="414.20000000000005" y2="199.2" stroke="#222" stroke-width="0.8"/>
<line x1="411.20000000000005" y1="198.0" x2="417.20000000000005" y2="198.0" stroke="#222" stroke-width="0.8"/>
<rect x="408.40000000000003" y="199.2" width="11.60" height="11.60" fill="url(#gb3)" stroke="#111" stroke-width="1.2"/>
<polyline points="375.6,136.6 375.6,132.3 394.7,132.3 394.7,165" fill="none" stroke="#8a8a8a" stroke-width="0.9"/>
<polyline points="375.6,122.7 375.6,117.5 414,117.5 414,190.5" fill="none" stroke="#8a8a8a" stroke-width="0.9"/>
<text x="385.5" y="133.2" font-size="7.5" font-weight="bold" font-style="normal" text-anchor="middle" fill="#222" >*</text>
<text x="395" y="116.2" font-size="7.5" font-weight="bold" font-style="normal" text-anchor="middle" fill="#222" >****</text>
<text transform="translate(342.9,161.9) rotate(-90)" font-size="7.2" font-weight="bold" text-anchor="middle" fill="#111"><tspan font-style="italic">Ptprd</tspan> mRNA expression</text>
<text transform="translate(377.3,222.8) rotate(-47) scale(0.82,1)" font-size="8.4" font-weight="bold" font-style="italic" text-anchor="end" fill="#111" stroke="#111" stroke-width="0.25">Ptprd+/+</text>
<text transform="translate(396.8,222.8) rotate(-47) scale(0.82,1)" font-size="8.4" font-weight="bold" font-style="italic" text-anchor="end" fill="#111" stroke="#111" stroke-width="0.25">Ptprd+/-</text>
<text transform="translate(416.3,222.8) rotate(-47) scale(0.82,1)" font-size="8.4" font-weight="bold" font-style="italic" text-anchor="end" fill="#111" stroke="#111" stroke-width="0.25">Ptprd-/-</text>
<text transform="translate(48.0,266.4) scale(0.94,1)" x="0" y="0" font-size="6.8" font-weight="bold" font-style="normal" text-anchor="start" fill="#111" >C57BL/6 liver samples</text>
<text x="43.6" y="271.6" font-size="4.9" font-weight="normal" font-style="normal" text-anchor="end" fill="#444" >(kDa)</text>
<text x="43.6" y="279.3" font-size="4.9" font-weight="normal" font-style="normal" text-anchor="end" fill="#444" >300 -</text>
<text x="43.6" y="293.3" font-size="4.9" font-weight="normal" font-style="normal" text-anchor="end" fill="#444" >250 -</text>
<text x="43.6" y="304.3" font-size="4.9" font-weight="normal" font-style="normal" text-anchor="end" fill="#444" >50 -</text>
<text x="43.6" y="316.1" font-size="4.9" font-weight="normal" font-style="normal" text-anchor="end" fill="#444" >37 -</text>
<rect x="46.5" y="277.3" width="72.6" height="16" fill="#d2d2d2" stroke="#111" stroke-width="1.1"/>
<rect x="47.2" y="278" width="71.2" height="14.6" fill="url(#gblot1)"/>
<rect x="50.8" y="278.6" width="17.6" height="13.4" rx="2" fill="#4a4a4a" opacity="0.85" filter="url(#blur1)"/>
<rect x="51.8" y="278.8" width="15.8" height="4.8" fill="#0a0a0a" filter="url(#blur05)"/>
<ellipse cx="55.2" cy="282.2" rx="4.1" ry="3.4" fill="#000" filter="url(#blur05)"/>
<ellipse cx="64.3" cy="281.8" rx="3.9" ry="3.2" fill="#000" filter="url(#blur05)"/>
<ellipse cx="59.6" cy="288.6" rx="4.2" ry="3.8" fill="#a8a8a8" opacity="0.75" filter="url(#blur1)"/>
<ellipse cx="78.6" cy="282.3" rx="2.6" ry="3.0" fill="#666" opacity="0.75" filter="url(#blur1)"/>
<ellipse cx="88.8" cy="282.5" rx="2.8" ry="3.2" fill="#666" opacity="0.7" filter="url(#blur1)"/>
<ellipse cx="83.5" cy="287.5" rx="8" ry="4" fill="#aaa" opacity="0.45" filter="url(#blur1)"/>
<rect x="103.2" y="284.2" width="1.6" height="1.6" fill="#333" filter="url(#blur03)"/>
<ellipse cx="114.4" cy="281.5" rx="1.6" ry="2.6" fill="#888" opacity="0.55" filter="url(#blur1)"/>
<ellipse cx="106" cy="287" rx="9" ry="4" fill="#bbb" opacity="0.35" filter="url(#blur1)"/>
<rect x="46.5" y="301.4" width="72.6" height="13.8" fill="#dedede" stroke="#111" stroke-width="1.1"/>
<rect x="49.3" y="306.8" width="18.700000000000003" height="5.0" rx="2.2" fill="#0a0a0a" filter="url(#blur03)"/>
<rect x="72.4" y="305.9" width="19.5" height="5.0" rx="2.2" fill="#0a0a0a" filter="url(#blur03)"/>
<rect x="96.3" y="305.7" width="19.5" height="5.0" rx="2.2" fill="#0a0a0a" filter="url(#blur03)"/>
<line x1="70.6" y1="277.5" x2="70.6" y2="315" stroke="#555" stroke-width="0.5" stroke-dasharray="0.8,0.8"/>
<line x1="94.6" y1="277.5" x2="94.6" y2="315" stroke="#555" stroke-width="0.5" stroke-dasharray="0.8,0.8"/>
<text x="122.8" y="287.3" font-size="6.4" font-weight="bold" font-style="normal" text-anchor="start" fill="#111" >PTPRD</text>
<text x="122.8" y="309.6" font-size="6.4" font-weight="bold" font-style="normal" text-anchor="start" fill="#111" >β-actin</text>
<text transform="translate(61.5,322.3) rotate(-43) scale(0.8,1)" font-size="7.4" font-weight="bold" font-style="italic" text-anchor="end" fill="#111" stroke="#111" stroke-width="0.2">Ptprd+/+</text>
<text transform="translate(86,322.3) rotate(-43) scale(0.8,1)" font-size="7.4" font-weight="bold" font-style="italic" text-anchor="end" fill="#111" stroke="#111" stroke-width="0.2">Ptprd+/-</text>
<text transform="translate(109,322.3) rotate(-43) scale(0.8,1)" font-size="7.4" font-weight="bold" font-style="italic" text-anchor="end" fill="#111" stroke="#111" stroke-width="0.2">Ptprd-/-</text>
<text transform="translate(190,261.9) scale(0.952,1)" x="0" y="0" font-size="5.5" font-weight="bold" font-style="normal" text-anchor="start" fill="#111" >Altered hepatic signaling pathways associated with glucose metabolism in <tspan font-style="italic">Ptprd</tspan>+/- mice (FDR&lt;0.05)</text>
<text transform="translate(247.8,275.3) scale(0.95,1)" x="0" y="0" font-size="5.5" font-weight="bold" font-style="normal" text-anchor="middle" fill="#111" >Reactome diabetes pathways</text>
<rect x="204" y="282.4" width="82.80000000000001" height="52.10000000000002" fill="#fff" stroke="#9a9a9a" stroke-width="0.6"/>
<line x1="204" y1="292" x2="286.8" y2="292" stroke="#e2ecf0" stroke-width="0.4" stroke-dasharray="1,1"/>
<line x1="204" y1="298" x2="286.8" y2="298" stroke="#e2ecf0" stroke-width="0.4" stroke-dasharray="1,1"/>
<line x1="204" y1="304" x2="286.8" y2="304" stroke="#e2ecf0" stroke-width="0.4" stroke-dasharray="1,1"/>
<line x1="204" y1="310" x2="286.8" y2="310" stroke="#e2ecf0" stroke-width="0.4" stroke-dasharray="1,1"/>
<line x1="204" y1="286.4" x2="286.8" y2="286.4" stroke="#c8c8c8" stroke-width="0.5"/>
<text x="201.7" y="288.79999999999995" font-size="5" font-weight="normal" font-style="normal" text-anchor="end" fill="#333" >0.60</text>
<line x1="204" y1="314.4" x2="286.8" y2="314.4" stroke="#c8c8c8" stroke-width="0.5"/>
<text x="201.7" y="316.79999999999995" font-size="5" font-weight="normal" font-style="normal" text-anchor="end" fill="#333" >0.00</text>
<line x1="204" y1="319.6" x2="286.8" y2="319.6" stroke="#bbb" stroke-width="0.4"/>
<g filter="url(#blur045)">
<rect x="204.20" y="319.8" width="1.20" height="11.6" fill="#222"/>
<rect x="205.80" y="319.8" width="2.70" height="11.6" fill="#999"/>
<rect x="209.00" y="319.8" width="1.50" height="11.6" fill="#555"/>
<rect x="210.50" y="319.8" width="1.00" height="11.6" fill="#888"/>
<rect x="211.50" y="319.8" width="1.50" height="11.6" fill="#666"/>
<rect x="215.00" y="319.8" width="3.00" height="11.6" fill="#c4c4c4"/>
<rect x="219.50" y="319.8" width="1.50" height="11.6" fill="#555"/>
<rect x="221.50" y="319.8" width="2.00" height="11.6" fill="#aaa"/>
<rect x="231.00" y="319.8" width="1.00" height="11.6" fill="#444"/>
<rect x="232.50" y="319.8" width="2.00" height="11.6" fill="#aaa"/>
<rect x="240.00" y="319.8" width="1.50" height="11.6" fill="#999"/>
<rect x="244.00" y="319.8" width="1.60" height="11.6" fill="#aaa"/>
<rect x="246.60" y="319.8" width="2.60" height="11.6" fill="#ccc"/>
<rect x="252.40" y="319.8" width="1.60" height="11.6" fill="#333"/>
<rect x="260.20" y="319.8" width="1.00" height="11.6" fill="#aaa"/>
<rect x="262.80" y="319.8" width="3.70" height="11.6" fill="#b0b0b0"/>
<rect x="269.00" y="319.8" width="1.00" height="11.6" fill="#444"/>
<rect x="271.00" y="319.8" width="1.70" height="11.6" fill="#999"/>
<rect x="274.30" y="319.8" width="1.20" height="11.6" fill="#ccc"/>
<rect x="276.50" y="319.8" width="2.00" height="11.6" fill="#bbb"/>
<rect x="280.60" y="319.8" width="2.10" height="11.6" fill="#444"/>
<rect x="283.20" y="319.8" width="2.10" height="11.6" fill="#888"/>
</g>
<rect x="204.3" y="331.4" width="82.20000000000002" height="3.1" fill="url(#gs1)"/>
<path d="M204.4,300 L204.8,289 L206,286.8 L212.5,284.4 L222,287.5 L278,317.1 L281.5,317.6 L285.6,314.3" fill="none" stroke="#3ee63e" stroke-width="1.2"/>
<text transform="translate(248,343.2) scale(0.95,1)" x="0" y="0" font-size="5.4" font-weight="bold" font-style="normal" text-anchor="middle" fill="#111" >NES = 2.27</text>
<text transform="translate(393.6,275.3) scale(0.95,1)" x="0" y="0" font-size="5.5" font-weight="bold" font-style="normal" text-anchor="middle" fill="#111" >Kegg insulin signaling pathway</text>
<rect x="352.2" y="282.7" width="81.30000000000001" height="51.80000000000001" fill="#fff" stroke="#9a9a9a" stroke-width="0.6"/>
<line x1="352.2" y1="292" x2="433.5" y2="292" stroke="#e2ecf0" stroke-width="0.4" stroke-dasharray="1,1"/>
<line x1="352.2" y1="298" x2="433.5" y2="298" stroke="#e2ecf0" stroke-width="0.4" stroke-dasharray="1,1"/>
<line x1="352.2" y1="304" x2="433.5" y2="304" stroke="#e2ecf0" stroke-width="0.4" stroke-dasharray="1,1"/>
<line x1="352.2" y1="310" x2="433.5" y2="310" stroke="#e2ecf0" stroke-width="0.4" stroke-dasharray="1,1"/>
<line x1="352.2" y1="289.1" x2="433.5" y2="289.1" stroke="#c8c8c8" stroke-width="0.5"/>
<text x="349.9" y="291.5" font-size="5" font-weight="normal" font-style="normal" text-anchor="end" fill="#333" >0.00</text>
<line x1="352.2" y1="318" x2="433.5" y2="318" stroke="#c8c8c8" stroke-width="0.5"/>
<text x="349.9" y="320.4" font-size="5" font-weight="normal" font-style="normal" text-anchor="end" fill="#333" >-0.50</text>
<line x1="352.2" y1="319.6" x2="433.5" y2="319.6" stroke="#bbb" stroke-width="0.4"/>
<g filter="url(#blur045)">
<rect x="353.50" y="319.8" width="2.50" height="11.6" fill="#999"/>
<rect x="356.00" y="319.8" width="1.50" height="11.6" fill="#ccc"/>
<rect x="358.00" y="319.8" width="2.00" height="11.6" fill="#666"/>
<rect x="360.50" y="319.8" width="3.00" height="11.6" fill="#d0d0d0"/>
<rect x="364.00" y="319.8" width="3.50" height="11.6" fill="#999"/>
<rect x="368.00" y="319.8" width="1.50" height="11.6" fill="#bbb"/>
<rect x="370.00" y="319.8" width="1.50" height="11.6" fill="#555"/>
<rect x="372.00" y="319.8" width="1.50" height="11.6" fill="#222"/>
<rect x="374.00" y="319.8" width="1.50" height="11.6" fill="#ccc"/>
<rect x="375.50" y="319.8" width="3.50" height="11.6" fill="#8a8a8a"/>
<rect x="380.50" y="319.8" width="1.50" height="11.6" fill="#aaa"/>
<rect x="386.50" y="319.8" width="1.50" height="11.6" fill="#999"/>
<rect x="390.50" y="319.8" width="4.00" height="11.6" fill="#b4b4b4"/>
<rect x="396.00" y="319.8" width="1.00" height="11.6" fill="#555"/>
<rect x="397.50" y="319.8" width="1.50" height="11.6" fill="#999"/>
<rect x="400.00" y="319.8" width="2.00" height="11.6" fill="#444"/>
<rect x="406.00" y="319.8" width="2.00" height="11.6" fill="#aaa"/>
<rect x="409.50" y="319.8" width="2.00" height="11.6" fill="#555"/>
<rect x="412.00" y="319.8" width="2.00" height="11.6" fill="#ccc"/>
<rect x="414.50" y="319.8" width="2.50" height="11.6" fill="#888"/>
<rect x="417.50" y="319.8" width="2.00" height="11.6" fill="#ccc"/>
<rect x="420.00" y="319.8" width="2.00" height="11.6" fill="#999"/>
<rect x="424.00" y="319.8" width="2.50" height="11.6" fill="#888"/>
<rect x="428.00" y="319.8" width="4.50" height="11.6" fill="#1a1a1a"/>
</g>
<rect x="352.5" y="331.4" width="80.70000000000002" height="3.1" fill="url(#gs2)"/>
<path d="M352.5,289.5 L353.5,286.3 L356,285.7 L358,285.2 L360,285.9 L362,285.4 L365,286.2 L368,286.6 C381,290 396,307 410,313.5 C417,316.5 421,317.8 425,317.6 C427.5,317.4 429,314 430.2,308 C431.6,301 432.6,295 433.1,288.5" fill="none" stroke="#3ee63e" stroke-width="1.2"/>
<text transform="translate(391.2,343.2) scale(0.95,1)" x="0" y="0" font-size="5.4" font-weight="bold" font-style="normal" text-anchor="middle" fill="#111" >NES = -1.76</text>
<text transform="translate(188.6,308.0) rotate(-90) scale(0.86,1)" font-size="5.2" font-weight="bold" font-style="normal" text-anchor="middle" fill="#2a2a2a" >Enrichment score (ES)</text>
<text transform="translate(336.4,307.8) rotate(-90) scale(0.86,1)" font-size="5.2" font-weight="bold" font-style="normal" text-anchor="middle" fill="#2a2a2a" >Enrichment score (ES)</text>
</svg></body></html>
